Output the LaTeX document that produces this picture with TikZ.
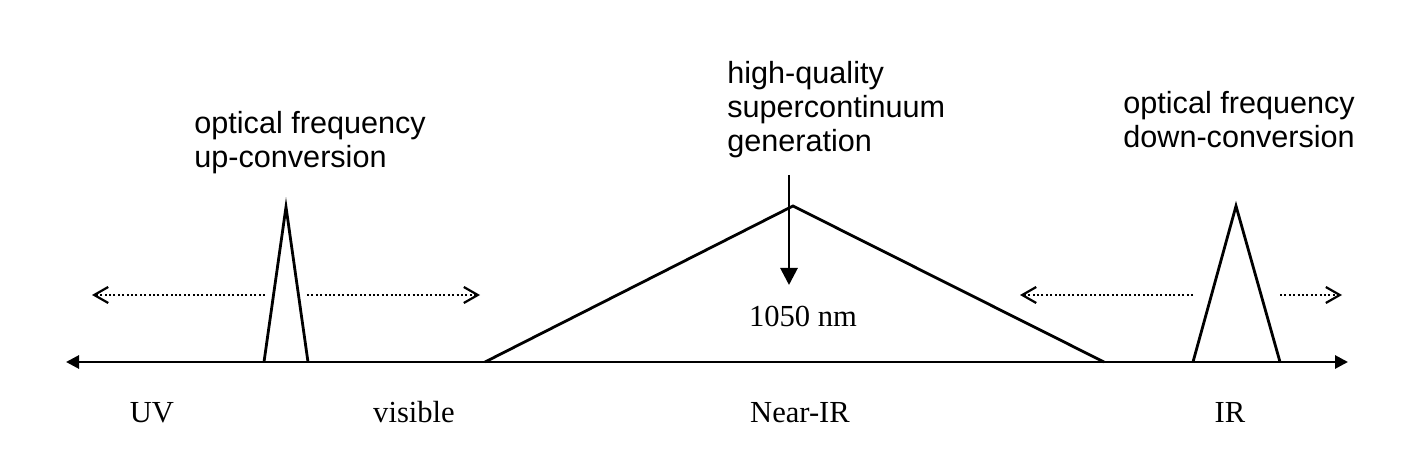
\documentclass[tikz,border=0pt]{standalone}
\usepackage{fontspec}
\setmainfont{Liberation Serif}
\setsansfont{Liberation Sans}
\usetikzlibrary{arrows.meta}

\tikzset{
  band/.style={font=\fontsize{15.3pt}{17pt}\selectfont, anchor=base},
  note/.style={font=\sffamily\fontsize{15.3pt}{17pt}\selectfont, align=left, anchor=base west, inner sep=0pt},
  convarrow/.style={line width=1pt, dash pattern=on 1pt off 1.2pt, -{Straight Barb[length=7pt,width=8pt,line width=1.1pt]}},
  peak/.style={line width=1.4pt, line join=miter}
}

\begin{document}
\begin{tikzpicture}[x=0.5pt,y=-0.5pt,line width=1.4pt]
      \useasboundingbox (0,0) rectangle (1414,464);

      % frequency axis
      \coordinate (axL) at (66,362);
      \coordinate (axR) at (1348,362);
      \draw[{Triangle[length=6.5pt,width=6.5pt]}-{Triangle[length=6.5pt,width=6.5pt]}] (axL) -- (axR);

      % spectra
      \draw[peak] (264,362) -- (286,207) -- (308,362);
      \draw[peak] (485,362) -- (793,206) -- (1104,362);
      \draw[peak] (1193,362) -- (1236,206) -- (1280,362);

      % conversion directions
      \coordinate (upL0) at (265,295);  \coordinate (upL1) at (92,295);
      \coordinate (upR0) at (307,295);  \coordinate (upR1) at (480,295);
      \coordinate (dnL0) at (1193,295); \coordinate (dnL1) at (1020,295);
      \coordinate (dnR0) at (1280,295); \coordinate (dnR1) at (1342,295);
      \path[convarrow] (upL0) edge (upL1) (upR0) edge (upR1)
                   (dnL0) edge (dnL1) (dnR0) edge (dnR1);

      % pump
      \coordinate (pump0) at (789,175);
      \node[band] (pump) at (803,327) {1050 nm};
      \draw[-{Triangle[length=8.5pt,width=8.5pt]}] (pump0) -- (789,285);

      % bands
      \node[band] (UV) at (152,423) {UV};
      \node[band] (vis) at (414,423) {visible};
      \node[band] (NIR) at (800,423) {Near-IR};
      \node[band] (IR) at (1230,423) {IR};

      % processes (anchored at the last line)
      \node[note] (up) at (193,168) {optical frequency\\up-conversion};
      \node[note] (sc) at (726,152) {high-quality\\supercontinuum\\generation};
      \node[note] (down) at (1122,148) {optical frequency\\down-conversion};
    \end{tikzpicture}
\end{document}
